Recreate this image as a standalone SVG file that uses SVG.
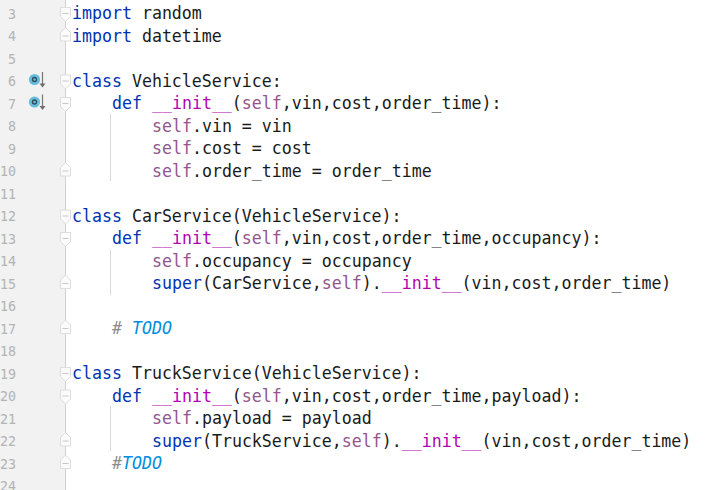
<svg xmlns="http://www.w3.org/2000/svg" width="712" height="490" viewBox="0 0 712 490">
<style>
.c{font-family:"DejaVu Sans Mono","Liberation Mono",monospace;font-size:18px;fill:#1a1a1a;white-space:pre}
.n{font-family:"DejaVu Sans Mono","Liberation Mono",monospace;font-size:14.8px;fill:#b0b4b7;text-anchor:end}
.k{fill:#0033b3}.s{fill:#94558d}.m{fill:#b200b2}.h{fill:#8c8c8c;font-style:italic}.t{fill:#008dde;font-style:italic}
.f{fill:#fbfbfb;stroke:#dcdcdc;stroke-width:1}.d{stroke:#c8c8c8;stroke-width:1}.g{stroke:#d9d9d9;stroke-width:1}
</style>
<defs>
<g id="fd"><path class="f" d="M60.500 -5.500H70.500V3.500L65.500 8.500L60.500 3.500Z"/><path class="d" d="M62.500 0.500H68.500"/></g>
<g id="fu"><path class="f" d="M60.500 5.500H70.500V-3L65.500 -8L60.500 -3Z"/><path class="d" d="M62.500 0.500H68.500"/></g>
<g id="b"><circle cx="34.500" cy="0" r="5.600" fill="#67bcdb"/><circle cx="34.500" cy="0" r="2" fill="none" stroke="#2f4c58" stroke-width="1.300"/><path d="M42.500 -7.500V5" stroke="#757575" stroke-width="1.200"/><path d="M39.500 4H45.500L42.500 8Z" fill="#6e6e6e"/></g>
</defs>
<rect width="712" height="490" fill="#fff"/>
<rect id="gutter" width="65" height="490" fill="#f2f2f2"/>
<path d="M65.500 0V490" stroke="#d0d0d0"/>
<g id="guides">
<path class="g" d="M110.500 114V181M110.500 250V295M110.500 406V451"/>
</g>
<g id="numbers" transform="scale(.9,1)">
<text class="n" x="17.800" y="19">3</text><text class="n" x="17.800" y="41">4</text><text class="n" x="17.800" y="64">5</text><text class="n" x="17.800" y="86">6</text><text class="n" x="17.800" y="109">7</text><text class="n" x="17.800" y="131">8</text><text class="n" x="17.800" y="154">9</text><text class="n" x="17.800" y="176">10</text><text class="n" x="17.800" y="199">11</text><text class="n" x="17.800" y="221">12</text><text class="n" x="17.800" y="244">13</text><text class="n" x="17.800" y="266">14</text><text class="n" x="17.800" y="289">15</text><text class="n" x="17.800" y="311">16</text><text class="n" x="17.800" y="334">17</text><text class="n" x="17.800" y="356">18</text><text class="n" x="17.800" y="379">19</text><text class="n" x="17.800" y="401">20</text><text class="n" x="17.800" y="424">21</text><text class="n" x="17.800" y="446">22</text><text class="n" x="17.800" y="469">23</text><text class="n" x="17.800" y="491">24</text>
</g>
<g id="markers">
<use href="#b" y="79.500"/><use href="#b" y="102"/>
</g>
<g id="folds">
<use href="#fd" y="13"/><use href="#fu" y="35.500"/><use href="#fd" y="80.500"/><use href="#fd" y="103"/><use href="#fu" y="170.500"/><use href="#fd" y="215.500"/><use href="#fd" y="238"/><use href="#fu" y="283"/><use href="#fu" y="328"/><use href="#fd" y="373"/><use href="#fd" y="395.500"/><use href="#fu" y="440.500"/><use href="#fu" y="463"/>
</g>
<g id="code" transform="scale(.9228,1)">
<text class="c" x="78.020" y="19.300"><tspan class="k">import</tspan> random</text>
<text class="c" x="78.020" y="41.800"><tspan class="k">import</tspan> datetime</text>
<text class="c" x="78.020" y="86.800"><tspan class="k">class</tspan> VehicleService:</text>
<text class="c" x="121.370" y="109.300"><tspan class="k">def</tspan> <tspan class="m">__init__</tspan>(<tspan class="s">self</tspan>,vin,cost,order_time):</text>
<text class="c" x="164.710" y="131.800"><tspan class="s">self</tspan>.vin = vin</text>
<text class="c" x="164.710" y="154.300"><tspan class="s">self</tspan>.cost = cost</text>
<text class="c" x="164.710" y="176.800"><tspan class="s">self</tspan>.order_time = order_time</text>
<text class="c" x="78.020" y="221.800"><tspan class="k">class</tspan> CarService(VehicleService):</text>
<text class="c" x="121.370" y="244.300"><tspan class="k">def</tspan> <tspan class="m">__init__</tspan>(<tspan class="s">self</tspan>,vin,cost,order_time,occupancy):</text>
<text class="c" x="164.710" y="266.800"><tspan class="s">self</tspan>.occupancy = occupancy</text>
<text class="c" x="164.710" y="289.300"><tspan class="k">super</tspan>(CarService,<tspan class="s">self</tspan>).<tspan class="m">__init__</tspan>(vin,cost,order_time)</text>
<text class="c" x="121.370" y="334.300"><tspan class="h"># </tspan><tspan class="t">TODO</tspan></text>
<text class="c" x="78.020" y="379.300"><tspan class="k">class</tspan> TruckService(VehicleService):</text>
<text class="c" x="121.370" y="401.800"><tspan class="k">def</tspan> <tspan class="m">__init__</tspan>(<tspan class="s">self</tspan>,vin,cost,order_time,payload):</text>
<text class="c" x="164.710" y="424.300"><tspan class="s">self</tspan>.payload = payload</text>
<text class="c" x="164.710" y="446.800"><tspan class="k">super</tspan>(TruckService,<tspan class="s">self</tspan>).<tspan class="m">__init__</tspan>(vin,cost,order_time)</text>
<text class="c" x="121.370" y="469.300"><tspan class="h">#</tspan><tspan class="t">TODO</tspan></text>
</g>
</svg>
